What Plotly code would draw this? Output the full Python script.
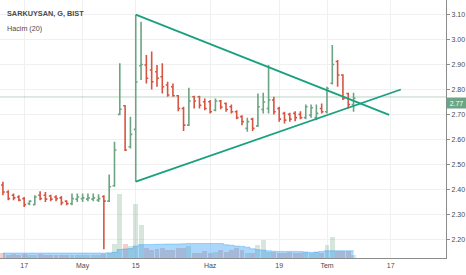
import plotly.graph_objects as go

# ---- data ----
bar_index = list(range(67))
opens = [2.417, 2.389, 2.376, 2.369, 2.362, 2.342, 2.338, 2.376, 2.376, 2.373,
         2.369, 2.365, 2.352, 2.342, 2.360, 2.362, 2.360, 2.360, 2.356, 2.371,
         2.352, 2.414, 2.700, 2.735, 2.570, 2.640, 2.895, 2.898, 2.878, 2.871,
         2.851, 2.818, 2.811, 2.775, 2.724, 2.657, 2.771, 2.771, 2.751, 2.751,
         2.717, 2.754, 2.744, 2.731, 2.711, 2.691, 2.644, 2.681, 2.654, 2.720,
         2.724, 2.758, 2.724, 2.704, 2.700, 2.704, 2.700, 2.687, 2.697, 2.687,
         2.724, 2.711, 2.825, 2.912, 2.858, 2.784, 2.740]
highs = [2.430, 2.396, 2.383, 2.376, 2.369, 2.356, 2.376, 2.392, 2.389, 2.378,
         2.376, 2.373, 2.356, 2.383, 2.383, 2.383, 2.383, 2.383, 2.380, 2.376,
         2.459, 2.590, 2.905, 2.737, 2.691, 3.100, 3.072, 2.938, 2.952, 2.898,
         2.905, 2.831, 2.824, 2.778, 2.731, 2.807, 2.775, 2.775, 2.764, 2.758,
         2.764, 2.758, 2.748, 2.740, 2.717, 2.697, 2.687, 2.687, 2.784, 2.787,
         2.898, 2.771, 2.731, 2.711, 2.707, 2.713, 2.713, 2.740, 2.740, 2.740,
         2.744, 2.811, 2.978, 2.918, 2.861, 2.787, 2.787]
lows = [2.376, 2.356, 2.356, 2.352, 2.329, 2.336, 2.336, 2.356, 2.349, 2.352,
        2.352, 2.336, 2.336, 2.336, 2.349, 2.349, 2.352, 2.352, 2.349, 2.159,
        2.349, 2.410, 2.697, 2.553, 2.563, 2.430, 2.838, 2.824, 2.800, 2.811,
        2.784, 2.771, 2.771, 2.713, 2.633, 2.654, 2.724, 2.724, 2.717, 2.704,
        2.713, 2.721, 2.711, 2.704, 2.681, 2.657, 2.630, 2.633, 2.650, 2.704,
        2.704, 2.700, 2.671, 2.664, 2.671, 2.673, 2.681, 2.681, 2.687, 2.677,
        2.704, 2.704, 2.820, 2.811, 2.758, 2.724, 2.711]
closes = [2.389, 2.362, 2.365, 2.356, 2.338, 2.352, 2.369, 2.362, 2.360, 2.360,
          2.362, 2.346, 2.342, 2.362, 2.369, 2.365, 2.365, 2.365, 2.362, 2.352,
          2.410, 2.557, 2.721, 2.557, 2.620, 2.830, 2.900, 2.845, 2.831, 2.845,
          2.811, 2.778, 2.775, 2.724, 2.657, 2.754, 2.754, 2.737, 2.724, 2.711,
          2.754, 2.730, 2.720, 2.711, 2.687, 2.671, 2.671, 2.644, 2.731, 2.750,
          2.758, 2.711, 2.681, 2.677, 2.681, 2.687, 2.687, 2.731, 2.727, 2.704,
          2.711, 2.804, 2.900, 2.858, 2.764, 2.740, 2.765]
# volume (thousand lots)
volumes = [125, 75, 100, 75, 100, 75, 75, 100, 75, 75,
           75, 75, 75, 75, 75, 75, 75, 75, 75, 100,
           125, 350, 1600, 350, 300, 1350, 825, 250, 200, 225,
           250, 200, 200, 250, 250, 300, 125, 125, 175, 125,
           150, 200, 150, 200, 250, 200, 125, 125, 315, 440,
           150, 150, 125, 125, 150, 125, 125, 150, 125, 150,
           125, 315, 515, 175, 175, 175, 75]
volume_ma20 = [125, 125, 125, 125, 125, 125, 125, 125, 125, 125,
               125, 125, 125, 125, 125, 125, 125, 125, 125, 125,
               130, 142, 212, 225, 235, 295, 332, 338, 340, 342,
               345, 348, 350, 352, 355, 360, 362, 362, 362, 362,
               362, 360, 330, 320, 300, 290, 270, 230, 208, 195,
               180, 170, 165, 165, 165, 165, 160, 150, 140, 150,
               165, 180, 182, 182, 182, 182, 182]
tick_index = [4, 15, 25, 39, 52, 61, 73]
tick_text = ["17", "May", "15", "Haz", "19", "Tem", "17"]
# triangle drawing anchors: (bar index, price)
upper_line_x = [25, 72.7]
upper_line_y = [3.10, 2.698]
lower_line_x = [25, 74.9]
lower_line_y = [2.43, 2.80]
last_price = 2.77

UP = "#6ba583"
DOWN = "#d75442"
FONT = "Liberation Sans Narrow, Arial Narrow, Liberation Sans, Arial, sans-serif"

vol_colors = ["rgba(107,165,131,0.28)" if c >= o else "rgba(215,84,66,0.28)"
              for o, c in zip(opens, closes)]

fig = go.Figure()
fig.add_trace(go.Bar(x=bar_index, y=volumes, yaxis="y2", marker_color=vol_colors,
                     marker_line_width=0, width=0.92, showlegend=False, hoverinfo="skip"))
fig.add_trace(go.Scatter(x=bar_index, y=volume_ma20, yaxis="y2", mode="lines",
                         line=dict(shape="hvh", width=0.8, color="rgba(33,150,243,0.45)"),
                         fill="tozeroy", fillcolor="rgba(33,150,243,0.38)",
                         showlegend=False, hoverinfo="skip"))
fig.add_trace(go.Ohlc(x=bar_index, open=opens, high=highs, low=lows, close=closes,
                      increasing=dict(line=dict(color=UP, width=1.6)),
                      decreasing=dict(line=dict(color=DOWN, width=1.6)),
                      tickwidth=0.36, showlegend=False, yaxis="y"))
# last price line
fig.add_trace(go.Scatter(x=[-5, 90], y=[last_price, last_price], mode="lines",
                         line=dict(color="rgba(107,165,131,0.45)", width=1),
                         showlegend=False, hoverinfo="skip"))
# triangle drawing
for xs, ys in ((upper_line_x, upper_line_y), (lower_line_x, lower_line_y)):
    fig.add_trace(go.Scatter(x=xs, y=ys, mode="lines",
                             line=dict(color="#18a07f", width=1.8),
                             showlegend=False, hoverinfo="skip"))

fig.update_layout(
    width=466, height=275,
    margin=dict(l=0, r=20, t=0, b=17),
    paper_bgcolor="white", plot_bgcolor="white",
    font=dict(family=FONT, size=7, color="#4a4a4a"),
    bargap=0,
    xaxis=dict(range=[-0.55, 83.4], tickvals=tick_index, ticktext=tick_text,
               rangeslider=dict(visible=False),
               showgrid=True, gridcolor="#f0f0f0", gridwidth=1, zeroline=False,
               showline=True, linecolor="#8c8c8c", linewidth=1.2,
               ticks="", tickfont=dict(size=7, color="#4a4a4a")),
    yaxis=dict(range=[2.124, 3.159], side="right", dtick=0.1, tick0=2.0,
               tickformat=".2f", showgrid=True, gridcolor="#f0f0f0", zeroline=False,
               showline=True, linecolor="#8c8c8c", linewidth=1.2,
               ticks="outside", ticklen=3, tickcolor="#8c8c8c",
               tickfont=dict(size=7, color="#4a4a4a")),
    yaxis2=dict(range=[0, 6450], overlaying="y", visible=False),
    annotations=[
        dict(text="<b>SARKUYSAN, G, BIST</b>", xref="paper", yref="paper", x=0.011, y=0.946,
             xanchor="left", yanchor="middle", showarrow=False,
             font=dict(family=FONT, size=7.3, color="#4a4a4a")),
        dict(text="Hacim (20)", xref="paper", yref="paper", x=0.011, y=0.888,
             xanchor="left", yanchor="middle", showarrow=False,
             font=dict(family=FONT, size=7.2, color="#4a4a4a")),
        dict(text="2.77", xref="paper", yref="y", x=1.0, y=last_price,
             xanchor="left", yanchor="top", showarrow=False, bgcolor="#6ba583",
             width=17, height=8, borderpad=1,
             font=dict(family=FONT, size=7, color="white")),
    ],
)
fig.write_html("out.html")
